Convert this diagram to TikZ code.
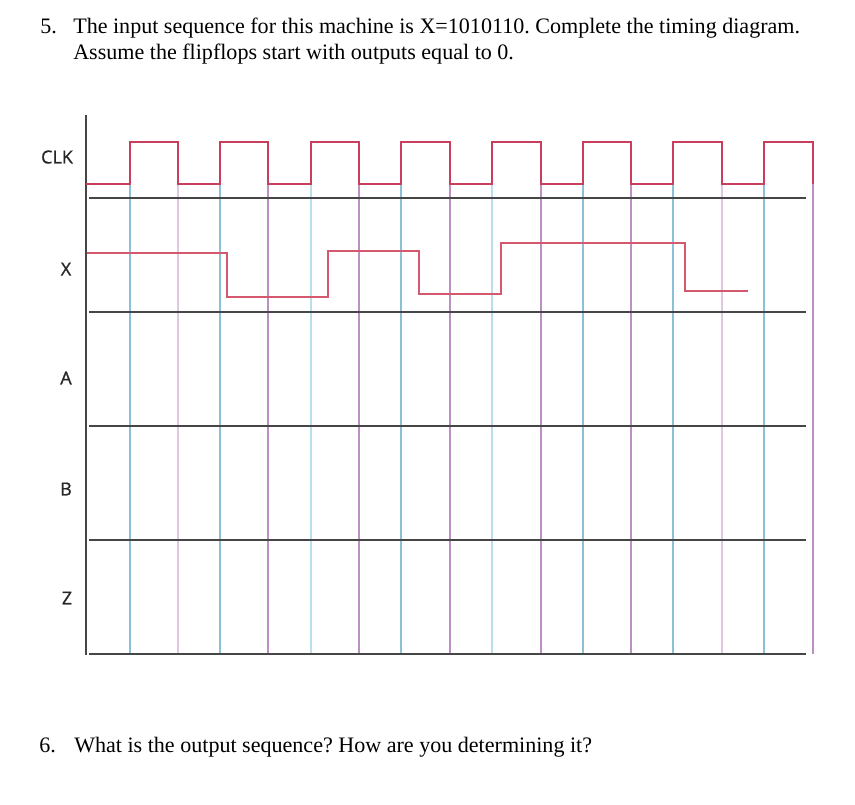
\documentclass[tikz,border=0pt]{standalone}
\usepackage{fontspec}
\setmainfont{Liberation Serif}
\newfontfamily\labfont[FakeBold=0.9]{Open Sans}
\frenchspacing
\definecolor{clkred}{RGB}{200,62,92}
\definecolor{xred}{RGB}{212,88,110}
\definecolor{gridblue}{RGB}{140,192,214}
\definecolor{gridlblue}{RGB}{185,222,238}
\definecolor{gridpurp}{RGB}{186,145,192}
\definecolor{gridpink}{RGB}{224,198,226}
\definecolor{axgray}{RGB}{70,70,70}
\begin{document}
\begin{tikzpicture}[x=0.75pt,y=-0.75pt,
  qtext/.style={anchor=base west,inner sep=0pt,font=\fontsize{16.55}{19}\selectfont},
  siglab/.style={inner sep=0pt,font=\labfont\fontsize{13.5}{16}\selectfont,text=black!85},
  hline/.style={axgray,line width=1.9pt},
  gblue/.style={gridblue,line width=1.8pt},
  glblue/.style={gridlblue,line width=2pt},
  gpurp/.style={gridpurp,line width=1.8pt},
  gpink/.style={gridpink,line width=2pt},
  wave/.style={line width=2.2pt,line join=miter}]
\useasboundingbox (0,0) rectangle (855,805);
% question text
\node[qtext] (n5) at (40,34) {5.};
\node[qtext] (q5a) at (73,34) {The input sequence for this machine is X=1010110. Complete the timing diagram.};
\node[qtext] (q5b) at (73,60) {Assume the flipflops start with outputs equal to 0.};
\node[qtext] (n6) at (39,752) {6.};
\node[qtext] (q6) at (74,752) {What is the output sequence? How are you determining it?};
% signal labels
\node[siglab] (lclk) at (57,157) {CLK};
\node[siglab] (lx) at (66,269) {X};
\node[siglab] (la) at (66,378) {A};
\node[siglab] (lb) at (66,489) {B};
\node[siglab] (lz) at (67,598) {Z};
% grid lines
\foreach \gx/\st in {130/gblue,178/gpink,220/gblue,268/gpurp,311/glblue,359/gpurp,401/gblue,450/gpurp,492/glblue,541/gpurp,583/gblue,631/gpurp,673/gblue,722/gpink,764/gblue,813/gpurp}
  \draw[\st] (\gx,184) -- (\gx,654);
% horizontal lines
\foreach \hy in {198,312,426,540,654}
  \draw[hline] (89,\hy) -- (806,\hy);
% axis
\draw[axgray,line width=1.9pt] (86,115) -- (86,655);
% clock
\draw[wave,clkred] (86,184) -- (130,184) -- (130,142) -- (178,142) -- (178,184) -- (220,184) -- (220,142) -- (268,142) -- (268,184) -- (311,184) -- (311,142) -- (359,142) -- (359,184) -- (401,184) -- (401,142) -- (450,142) -- (450,184) -- (492,184) -- (492,142) -- (541,142) -- (541,184) -- (583,184) -- (583,142) -- (631,142) -- (631,184) -- (673,184) -- (673,142) -- (722,142) -- (722,184) -- (764,184) -- (764,142) -- (813,142) -- (813,184);
% X
\draw[wave,xred] (87,253) -- (227,253) -- (227,297) -- (328,297) -- (328,251) -- (419,251) -- (419,294) -- (501,294) -- (501,243) -- (685,243) -- (685,291) -- (748,291);
\end{tikzpicture}
\end{document}
